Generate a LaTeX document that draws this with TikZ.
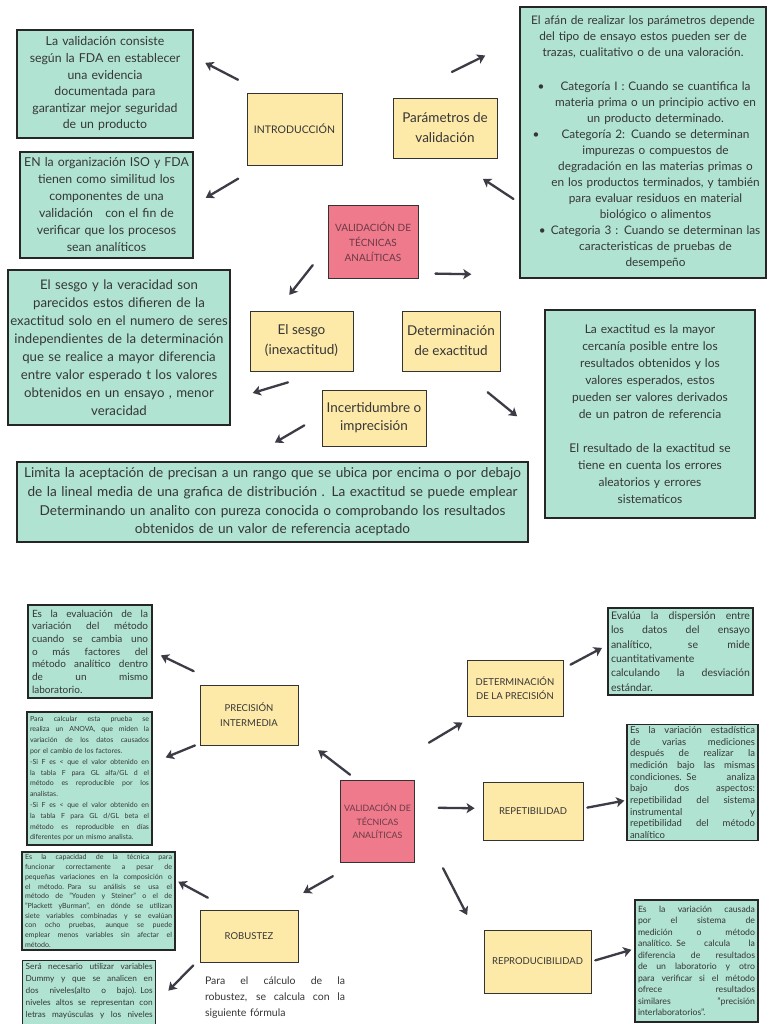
\documentclass[tikz,border=0pt]{standalone}
\usepackage{fontspec}
\setmainfont{Lato}
\usetikzlibrary{arrows.meta}

\definecolor{mint}{HTML}{B0E3D1}
\definecolor{butter}{HTML}{FDE9A8}
\definecolor{rose}{HTML}{EE7A8C}
\definecolor{ink}{HTML}{363636}
\definecolor{roseink}{HTML}{6B3A45}
\definecolor{arrowgray}{HTML}{3C3C46}

% one justified line of a note
\newcommand{\jwidth}{100pt}
\newcommand{\jl}[1]{\leavevmode\hbox to \jwidth{\spaceskip=.28em plus 1fil minus .05em\relax #1}}
% hanging bullet
\newcommand{\blt}[1]{\llap{\textbullet\hspace{#1}}}

\tikzset{
  mintbox/.style={draw=black!85, fill=mint, line width=1.4pt, text=ink, inner sep=2pt},
  notebox/.style={draw=black!80, fill=butter, line width=0.8pt, text=ink, align=center},
  titlebox/.style={draw=black!80, fill=rose, line width=0.8pt, text=roseink, align=center},
  sized/.style 2 args={minimum width=#1, minimum height=#2},
  fsz/.style 2 args={font=\fontsize{#1}{#2}\selectfont},
  jw/.style={text width=#1, align=left, execute at begin node={\def\jwidth{#1pt}}},
  arr/.style={arrowgray, line width=2.3pt, line cap=round, -{Stealth[length=8pt,width=10pt,inset=2pt]}}
}

\begin{document}
\begin{tikzpicture}[x=1pt, y=-1pt]

    \fill[white] (0,0) rectangle (768,1024);
    \useasboundingbox (0,0) rectangle (768,1024);

    % ---------------- Top map ----------------
    \node[mintbox, sized={176}{108}, text width=172, align=center, fsz={12.3}{16.6}] (fdadef) at (105,84)
      {La validación  consiste\\ según la FDA  en establecer\\ una evidencia\\ documentada para\\ garantizar mejor seguridad\\ de un producto};
    \node[mintbox, sized={173}{106}, text width=169, align=center, fsz={12.3}{17}] (isofda) at (106.5,205)
      {EN la organización ISO y FDA\\ tienen como similitud los\\ componentes de una\\ validación \ \ con el fin de\\ verificar que los procesos\\ sean analíticos};
    \node[notebox, sized={95}{72}, fsz={10.5}{13}] (intro) at (294.5,129) {INTRODUCCIÓN};
    \node[notebox, sized={104}{60}, fsz={13.5}{20}] (param) at (445,128) {Parámetros de\\ validación};

    \node[mintbox, sized={246}{271}, text width=242, align=center, fsz={11.8}{16}] (categ) at (643,142.5)
      {El afán de realizar los parámetros depende\\ del tipo de ensayo estos pueden ser de\\ trazas, cualitativo o de una valoración.\\[18pt]
       \hspace*{25pt}\blt{16pt}Categoría I : Cuando se cuantifica la\\
       \hspace*{25pt}materia prima o un principio activo en\\
       \hspace*{25pt}un producto determinado.\\
       \hspace*{25pt}\blt{22pt}Categoría 2: Cuando se determinan\\
       \hspace*{25pt}impurezas o compuestos de\\
       \hspace*{25pt}degradación en las materias primas o\\
       \hspace*{25pt}en los productos terminados, y también\\
       \hspace*{25pt}para evaluar residuos en material\\
       \hspace*{25pt}biológico o alimentos\\
       \hspace*{25pt}\blt{5pt}Categoria 3 : Cuando se determinan las\\
       \hspace*{25pt}caracteristicas de pruebas de\\
       \hspace*{25pt}desempeño};

    \node[titlebox, sized={90}{73}, fsz={10}{15}] (valtec) at (373,241.5) {VALIDACIÓN DE\\ TÉCNICAS\\ ANALÍTICAS};

    \node[mintbox, sized={222}{155}, text width=218, align=center, fsz={13.2}{18}] (sesgoinfo) at (119,347.5)
      {El sesgo y la veracidad son\\ parecidos estos difieren de la\\ exactitud solo en el numero de seres\\ independientes de la determinación\\ que se realice  a mayor diferencia\\ entre valor esperado t los valores\\ obtenidos en un ensayo , menor\\ veracidad};
    \node[notebox, sized={103}{60}, fsz={13.5}{20}] (sesgo) at (301.5,341) {El sesgo\\ (inexactitud)};
    \node[notebox, sized={98}{60}, fsz={13.5}{20}] (exact) at (451,341) {Determinación\\ de exactitud};
    \node[notebox, sized={104}{56}, fsz={13.5}{18}] (incert) at (374,418) {Incertidumbre o\\ imprecisión};

    \node[mintbox, sized={210}{208}, text width=206, align=center, fsz={12}{17}] (exactinfo) at (650,414)
      {La exactitud es la mayor\\ cercanía posible entre los\\ resultados obtenidos  y los\\ valores esperados, estos\\ pueden ser valores derivados\\ de  un patron de referencia\\[17pt]
       El resultado de la exactitud se\\ tiene en cuenta los errores\\ aleatorios y errores\\ sistematicos};

    \node[mintbox, sized={511}{80}, text width=507, align=center, fsz={13.6}{18.7}] (limita) at (272.5,502)
      {Limita la aceptación de precisan a un rango que se ubica por encima o por debajo\\ de la lineal media de una grafica de distribución . La exactitud se puede emplear\\ Determinando un analito con pureza conocida o comprobando los resultados\\ obtenidos de un valor de referencia aceptado};

    % arrows of the top map
    \foreach \src/\dst/\ga/\gb in {intro.131/fdadef.17/28/13, intro.227/isofda.east/26/14,
        param.146/categ.140/58/38, categ.206/param.283/7/37, valtec.325/categ.227/17/48,
        valtec.186/sesgo.129/24/20, sesgo.307/sesgoinfo.335/38/23, incert.177/limita.126/20/37,
        exact.290/exactinfo.193/33/35} {
        \draw[arr, shorten <=\ga, shorten >=\gb] (\src) -- (\dst);
    }

    % ---------------- Bottom map ----------------
    \node[mintbox, sized={124}{93}, jw=116, fsz={10}{12.7}] (evalbox) at (90,651.5)
      {\jl{Es la evaluación de la}\\ \jl{variación del método}\\ \jl{cuando se cambia uno}\\ \jl{o más factores del}\\
       \jl{método analítico dentro}\\ \jl{de un mismo}\\ laboratorio.};
    \node[notebox, sized={98}{60}, fsz={9.5}{15}] (precint) at (249,715) {PRECISIÓN\\ INTERMEDIA};
    \node[mintbox, sized={125}{133}, jw=119, fsz={7}{10.8}] (anovabox) at (89.5,778.5)
      {\jl{Para calcular esta prueba se}\\ \jl{realiza un ANOVA, que miden la}\\ \jl{variación de los datos causados}\\
       por el cambio de los factores.\\ \jl{-Si F es < que el valor obtenido en}\\ \jl{la tabla F para GL alfa/GL d el}\\
       \jl{método es reproducible por los}\\ analistas.\\ \jl{-Si F es < que el valor obtenido en}\\
       \jl{la tabla F para GL d/GL beta el}\\ \jl{método es reproducible en días}\\ diferentes por un mismo analista.};

    \node[titlebox, sized={71}{82}, fsz={8.8}{13.5}] (valtec2) at (377.5,821) {VALIDACIÓN DE\\ TÉCNICAS\\ ANALÍTICAS};

    \node[notebox, sized={96}{56}, fsz={9.5}{14}] (detprec) at (515,688) {DETERMINACIÓN\\ DE LA PRECISIÓN};
    \node[mintbox, sized={145}{87}, jw=139, fsz={10.5}{14.4}] (dispbox) at (680.5,651.5)
      {\jl{Evalúa la dispersión entre}\\ \jl{los datos del ensayo}\\ \jl{analítico, se mide}\\ cuantitativamente\\
       \jl{calculando la desviación}\\ estándar.};

    \node[notebox, sized={100}{58}, fsz={9.5}{14}] (repet) at (533,811) {REPETIBILIDAD};
    \node[mintbox, sized={131}{115}, jw=125, fsz={9.5}{11.7}] (repetbox) at (692.5,782.5)
      {\jl{Es la variación estadística}\\ \jl{de varias mediciones}\\ \jl{después de realizar la}\\ \jl{medición bajo las mismas}\\
       \jl{condiciones. Se analiza}\\ \jl{bajo dos aspectos:}\\ \jl{repetibilidad del sistema}\\ \jl{instrumental y}\\
       \jl{repetibilidad del método}\\ analítico};

    \node[notebox, sized={107}{63}, fsz={9.5}{14}] (repro) at (537.5,961.5) {REPRODUCIBILIDAD};
    \node[mintbox, sized={123}{122}, jw=117, fsz={8.7}{11.5}] (reprobox) at (696.5,961)
      {\jl{Es la variación causada}\\ \jl{por el sistema de}\\ \jl{medición o método}\\ \jl{analítico. Se calcula la}\\
       \jl{diferencia de resultados}\\ \jl{de un laboratorio y otro}\\ \jl{para verificar si el método}\\ \jl{ofrece resultados}\\
       \jl{similares "precisión}\\ interlaboratorios".};

    \node[notebox, sized={98}{52}, fsz={9.5}{14}] (robust) at (249,936) {ROBUSTEZ};
    \node[mintbox, sized={153}{98}, jw=147, fsz={7.1}{9.7}] (robbox) at (98.5,901)
      {\jl{Es la capacidad de la técnica para}\\ \jl{funcionar correctamente a pesar de}\\
       \jl{pequeñas variaciones en la composición o}\\ \jl{el método. Para su análisis se usa el}\\
       \jl{método de "Youden y Steiner" o el de}\\ \jl{"Plackett yBurman", en dónde se utilizan}\\
       \jl{siete variables combinadas y se evalúan}\\ \jl{con ocho pruebas, aunque se puede}\\
       \jl{emplear menos variables sin afectar el}\\ método.};
    \node[mintbox, anchor=north west, minimum width=133, jw=127, inner sep=3pt, fsz={8.3}{12}] (dummybox) at (22,960)
      {\jl{Será necesario utilizar variables}\\ \jl{Dummy y que se analicen en}\\ \jl{dos niveles(alto o bajo). Los}\\
       \jl{niveles altos se representan con}\\ \jl{letras mayúsculas y los niveles}\\ \mbox{}\\ \mbox{}};
    \node[text=ink, jw=140, fsz={10.5}{16}] (formula) at (275,998)
      {\jl{Para el cálculo de la}\\ \jl{robustez, se calcula con la}\\ siguiente fórmula};

    % arrows of the bottom map
    \foreach \src/\dst/\ga/\gb in {precint.132/evalbox.east/31/9, precint.210/anovabox.14/5/14,
        valtec2.117/precint.338/8/25, valtec2.104/detprec.214/72/12, detprec.22/dispbox.175/8/6,
        valtec2.20/repet.177/24/8, repet.3/repetbox.195/4/2, valtec2.12/repro.165/62/36,
        repro.east/reprobox.169/4/3, valtec2.244/robust.47/28/34, robust.126/robbox.15/25/3,
        robust.205/dummybox.east/9/17} {
        \draw[arr, shorten <=\ga, shorten >=\gb] (\src) -- (\dst);
    }

\end{tikzpicture}
\end{document}
